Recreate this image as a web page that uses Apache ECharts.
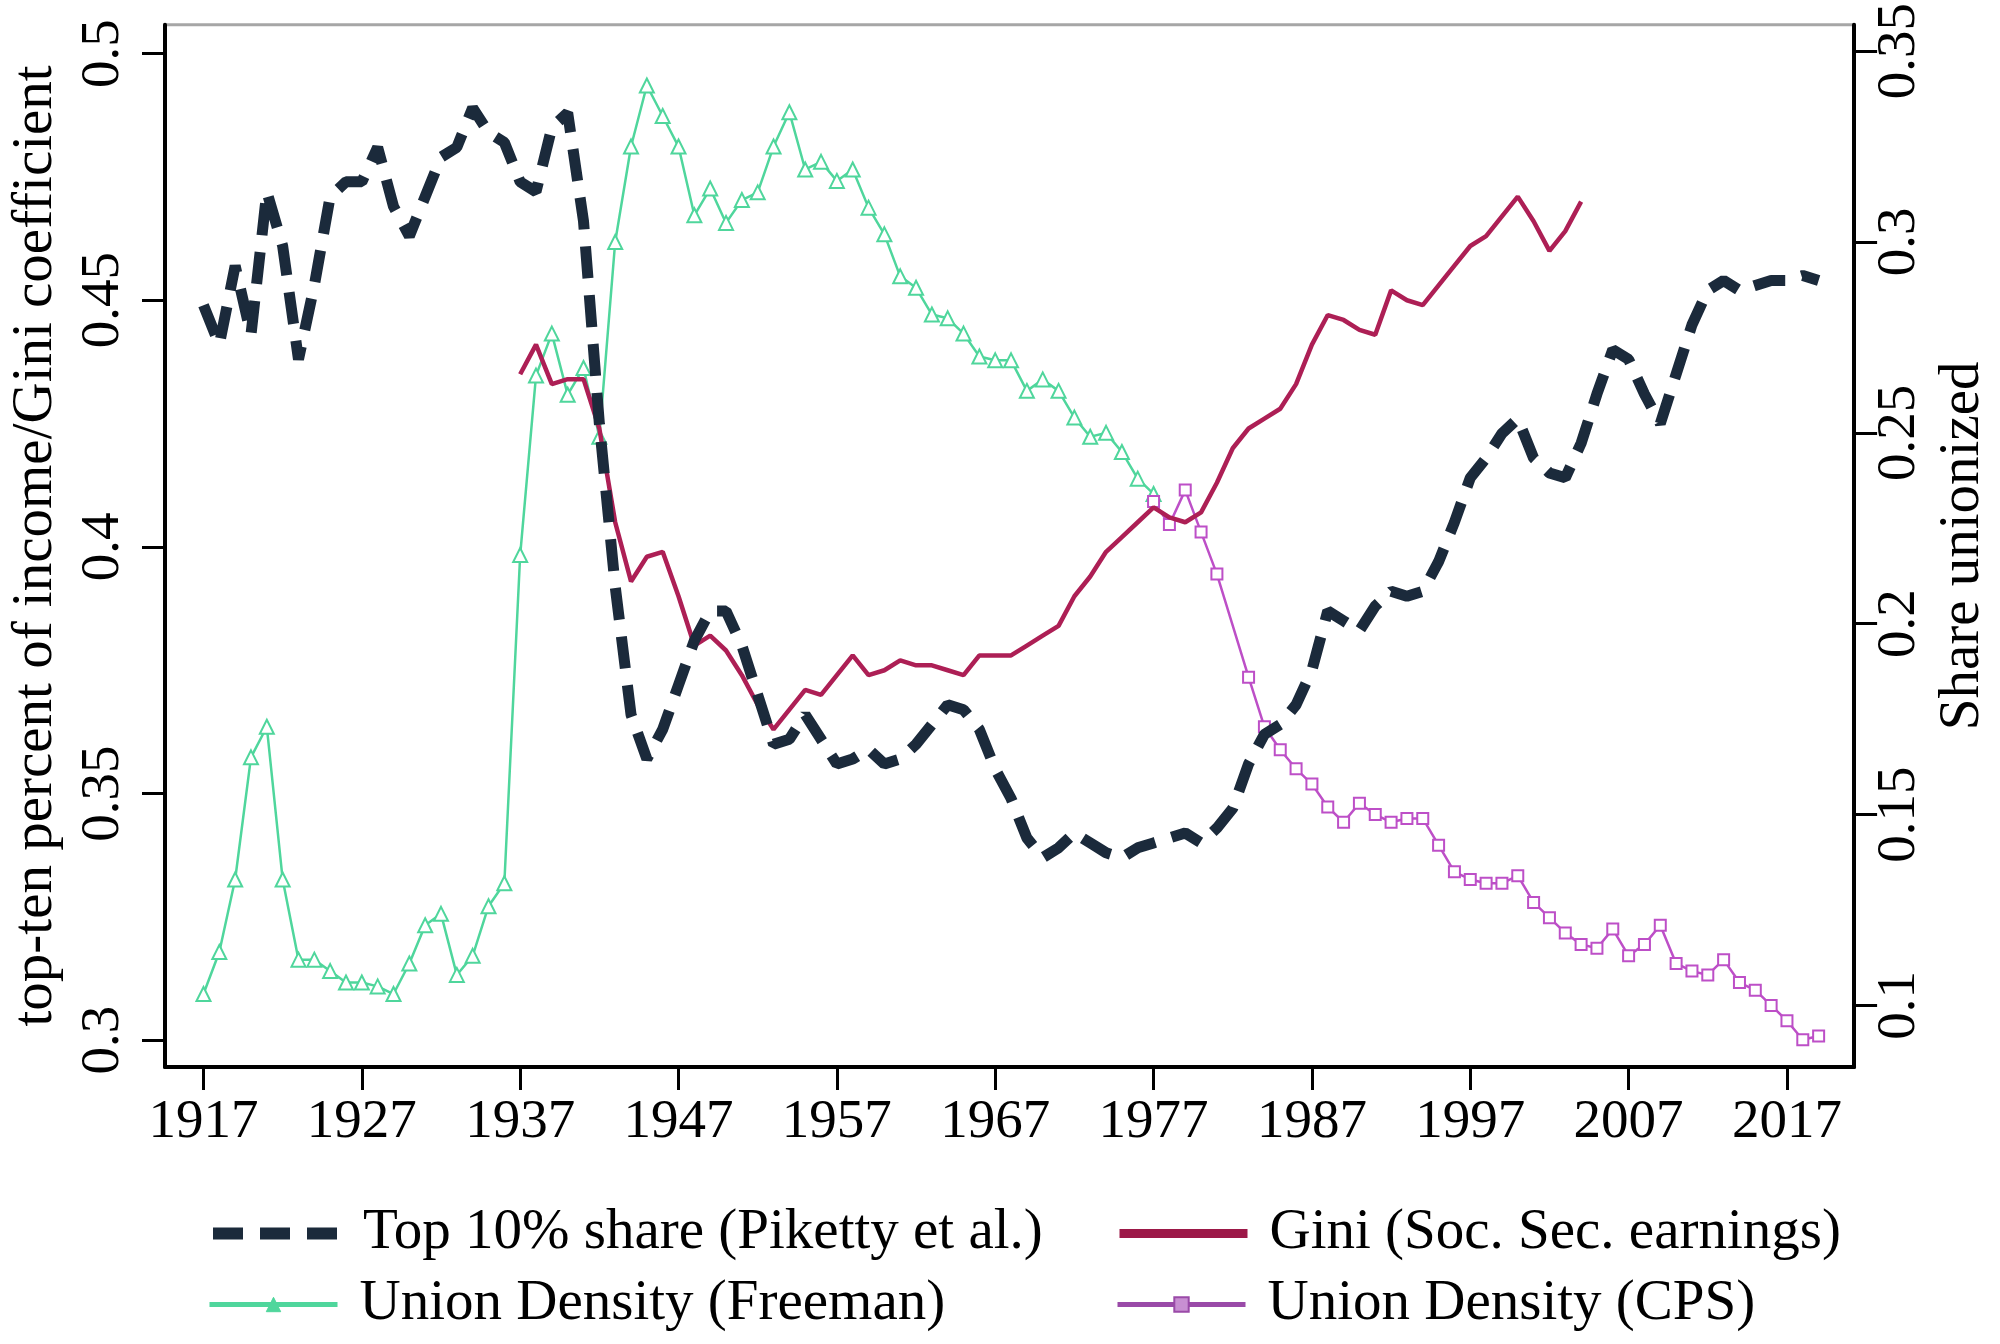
<!DOCTYPE html>
<html>
<head>
<meta charset="utf-8">
<script src="https://cdn.jsdelivr.net/npm/echarts@6/dist/echarts.min.js"></script>
<style>
html,body{margin:0;padding:0;background:#ffffff;}
#chart{width:2000px;height:1344px;}
</style>
</head>
<body>
<div id="chart"></div>
<script>
// ---------------- data ----------------
const xTickYears = [1917, 1927, 1937, 1947, 1957, 1967, 1977, 1987, 1997, 2007, 2017];
const leftTicks  = [0.3, 0.35, 0.4, 0.45, 0.5];
const rightTicks = [0.1, 0.15, 0.2, 0.25, 0.3, 0.35];

const top10Years = [
  1917,1918,1919,1920,1921,1922,1923,1924,1925,1926,
  1927,1928,1929,1930,1931,1932,1933,1934,1935,1936,
  1937,1938,1939,1940,1941,1942,1943,1944,1945,1946,
  1947,1948,1949,1950,1951,1952,1953,1954,1955,1956,
  1957,1958,1959,1960,1961,1962,1963,1964,1965,1966,
  1967,1968,1969,1970,1971,1972,1973,1974,1975,1976,
  1977,1978,1979,1980,1981,1982,1983,1984,1985,1986,
  1987,1988,1989,1990,1991,1992,1993,1994,1995,1996,
  1997,1998,1999,2000,2001,2002,2003,2004,2005,2006,
  2007,2008,2009,2010,2011,2012,2013,2014,2015,2016,
  2017,2018,2019
];
const top10Share = [
  0.449,0.441,0.457,0.443,0.472,0.461,0.438,0.453,0.471,0.474,
  0.474,0.481,0.469,0.463,0.471,0.479,0.481,0.489,0.484,0.482,
  0.474,0.472,0.485,0.488,0.466,0.425,0.392,0.366,0.357,0.363,
  0.372,0.381,0.387,0.387,0.380,0.370,0.360,0.361,0.366,0.361,
  0.356,0.357,0.359,0.356,0.357,0.360,0.364,0.368,0.367,0.363,
  0.355,0.349,0.341,0.337,0.339,0.342,0.340,0.338,0.337,0.339,
  0.340,0.341,0.342,0.340,0.343,0.347,0.356,0.362,0.364,0.368,
  0.375,0.387,0.385,0.383,0.388,0.391,0.390,0.391,0.397,0.405,
  0.414,0.418,0.423,0.426,0.418,0.415,0.414,0.421,0.431,0.440,
  0.438,0.431,0.425,0.435,0.445,0.452,0.454,0.452,0.453,0.454,
  0.454,0.455,0.454
];

const giniYears = [
  1937,1938,1939,1940,1941,1942,1943,1944,1945,1946,
  1947,1948,1949,1950,1951,1952,1953,1954,1955,1956,
  1957,1958,1959,1960,1961,1962,1963,1964,1965,1966,
  1967,1968,1969,1970,1971,1972,1973,1974,1975,1976,
  1977,1978,1979,1980,1981,1982,1983,1984,1985,1986,
  1987,1988,1989,1990,1991,1992,1993,1994,1995,1996,
  1997,1998,1999,2000,2001,2002,2003,2004
];
const giniValues = [
  0.435,0.441,0.433,0.434,0.434,0.424,0.405,0.393,0.398,0.399,
  0.390,0.380,0.382,0.379,0.374,0.368,0.363,0.367,0.371,0.370,
  0.374,0.378,0.374,0.375,0.377,0.376,0.376,0.375,0.374,0.378,
  0.378,0.378,0.380,0.382,0.384,0.390,0.394,0.399,0.402,0.405,
  0.408,0.406,0.405,0.407,0.413,0.420,0.424,0.426,0.428,0.433,
  0.441,0.447,0.446,0.444,0.443,0.452,0.450,0.449,0.453,0.457,
  0.461,0.463,0.467,0.471,0.466,0.460,0.464,0.470
];

const freemanYears = [
  1917,1918,1919,1920,1921,1922,1923,1924,1925,1926,
  1927,1928,1929,1930,1931,1932,1933,1934,1935,1936,
  1937,1938,1939,1940,1941,1942,1943,1944,1945,1946,
  1947,1948,1949,1950,1951,1952,1953,1954,1955,1956,
  1957,1958,1959,1960,1961,1962,1963,1964,1965,1966,
  1967,1968,1969,1970,1971,1972,1973,1974,1975,1976,
  1977
];
const freemanValues = [
  0.103,0.114,0.133,0.165,0.173,0.133,0.112,0.112,0.109,0.106,
  0.106,0.105,0.103,0.111,0.121,0.124,0.108,0.113,0.126,0.132,
  0.218,0.265,0.276,0.260,0.267,0.249,0.300,0.325,0.341,0.333,
  0.325,0.307,0.314,0.305,0.311,0.313,0.325,0.334,0.319,0.321,
  0.316,0.319,0.309,0.302,0.291,0.288,0.281,0.280,0.276,0.270,
  0.269,0.269,0.261,0.264,0.261,0.254,0.249,0.250,0.245,0.238,
  0.234
];

const cpsYears = [
  1977,1978,1979,1980,1981,
  1983,1984,1985,1986,1987,1988,1989,1990,1991,1992,
  1993,1994,1995,1996,1997,1998,1999,2000,2001,2002,
  2003,2004,2005,2006,2007,2008,2009,2010,2011,2012,
  2013,2014,2015,2016,2017,2018,2019
];
const cpsValues = [
  0.232,0.226,0.235,0.224,0.213,
  0.186,0.173,0.167,0.162,0.158,0.152,0.148,0.153,0.150,0.148,
  0.149,0.149,0.142,0.135,0.133,0.132,0.132,0.134,0.127,0.123,
  0.119,0.116,0.115,0.120,0.113,0.116,0.121,0.111,0.109,0.108,
  0.112,0.106,0.104,0.100,0.096,0.091,0.092
];

const names = {
  top10: 'Top 10% share (Piketty et al.)',
  gini: 'Gini (Soc. Sec. earnings)',
  freeman: 'Union Density (Freeman)',
  cps: 'Union Density (CPS)'
};
const leftAxisTitle = 'top-ten percent of income/Gini coefficient';
const rightAxisTitle = 'Share unionized';

// ---------------- chart ----------------
function pairs(xs, ys) { return xs.map((x, i) => [x, ys[i]]); }

const FONT = 'Liberation Serif';
const C_TOP = '#1b2a3b';
const C_GINI = '#ad1f55';
const C_FREE = '#4fd69c';
const C_CPS = '#bd4fc7';

const chart = echarts.init(document.getElementById('chart'), null, { renderer: 'canvas' });

const legendText = { fontFamily: FONT, fontSize: 57, color: '#000', padding: [0, 0, 0, 17] };

const option = {
  backgroundColor: '#ffffff',
  animation: false,
  grid: {
    left: 156, right: 132, top: 17, bottom: 277,
    show: true, borderColor: '#a6a6a6', borderWidth: 3, backgroundColor: '#ffffff'
  },
  legend: [
    { data: [names.top10], left: 202, top: 1200, itemWidth: 128, itemHeight: 16, textStyle: legendText,
      lineStyle: { width: 12, type: [30, 17], color: C_TOP }, itemStyle: { opacity: 0 }, selectedMode: false },
    { data: [names.gini], left: 1110, top: 1200, itemWidth: 128, itemHeight: 16, textStyle: legendText,
      lineStyle: { width: 9, color: '#9c1848' }, itemStyle: { opacity: 0 }, selectedMode: false },
    { data: [names.freeman], left: 202, top: 1271, itemWidth: 128, itemHeight: 18, textStyle: legendText,
      lineStyle: { width: 5, color: C_FREE }, itemStyle: { color: C_FREE, borderColor: C_FREE, borderWidth: 1 }, selectedMode: false },
    { data: [names.cps], left: 1110, top: 1271, itemWidth: 128, itemHeight: 18, textStyle: legendText,
      lineStyle: { width: 5, color: '#9a4aa8' }, itemStyle: { color: '#c88fd2', borderColor: '#9a4aa8', borderWidth: 2 }, selectedMode: false }
  ],
  xAxis: {
    type: 'value',
    min: 1914.57, max: 2021.24,
    axisLine: { show: true, onZero: false, lineStyle: { color: '#000', width: 4 } },
    axisTick: { show: true, length: 23, lineStyle: { color: '#000', width: 3 }, customValues: xTickYears },
    axisLabel: { customValues: xTickYears, fontFamily: FONT, fontSize: 55, color: '#000', margin: 28,
      formatter: v => String(v) },
    splitLine: { show: false }
  },
  yAxis: [
    {
      type: 'value', position: 'left',
      min: 0.29457, max: 0.50583,
      name: leftAxisTitle, nameLocation: 'middle', nameGap: 100, nameRotate: 90,
      nameTextStyle: { fontFamily: FONT, fontSize: 57, color: '#000' },
      axisLine: { show: true, onZero: false, lineStyle: { color: '#000', width: 4 } },
      axisTick: { show: true, length: 23, lineStyle: { color: '#000', width: 3 }, customValues: leftTicks },
      axisLabel: { customValues: leftTicks, rotate: 90, fontFamily: FONT, fontSize: 55, color: '#000', margin: 34,
        formatter: v => String(v) },
      splitLine: { show: false }
    },
    {
      type: 'value', position: 'right',
      min: 0.08388, max: 0.35689,
      name: rightAxisTitle, nameLocation: 'middle', nameGap: 80, nameRotate: 90,
      nameTextStyle: { fontFamily: FONT, fontSize: 57, color: '#000' },
      axisLine: { show: true, onZero: false, lineStyle: { color: '#000', width: 4 } },
      axisTick: { show: true, length: 23, lineStyle: { color: '#000', width: 3 }, customValues: rightTicks },
      axisLabel: { customValues: rightTicks, rotate: 90, fontFamily: FONT, fontSize: 55, color: '#000', margin: 18,
        formatter: v => String(v) },
      splitLine: { show: false }
    }
  ],
  series: [
    {
      name: names.freeman, type: 'line', yAxisIndex: 1,
      data: pairs(freemanYears, freemanValues),
      symbol: 'triangle', symbolSize: 14, showSymbol: true,
      lineStyle: { color: C_FREE, width: 2.5 },
      itemStyle: { color: '#ffffff', borderColor: C_FREE, borderWidth: 2 },
      z: 2
    },
    {
      name: names.cps, type: 'line', yAxisIndex: 1,
      data: pairs(cpsYears, cpsValues),
      symbol: 'rect', symbolSize: 11, showSymbol: true,
      lineStyle: { color: C_CPS, width: 2.5 },
      itemStyle: { color: '#ffffff', borderColor: C_CPS, borderWidth: 2 },
      z: 2
    },
    {
      name: names.gini, type: 'line', yAxisIndex: 0,
      data: pairs(giniYears, giniValues),
      symbol: 'none',
      lineStyle: { color: C_GINI, width: 4.5 },
      itemStyle: { color: C_GINI },
      z: 3
    },
    {
      name: names.top10, type: 'line', yAxisIndex: 0,
      data: pairs(top10Years, top10Share),
      symbol: 'none',
      lineStyle: { color: C_TOP, width: 11, type: [32, 17], cap: 'butt' },
      itemStyle: { color: C_TOP },
      z: 4
    }
  ]
};
chart.setOption(option);
</script>
</body>
</html>
